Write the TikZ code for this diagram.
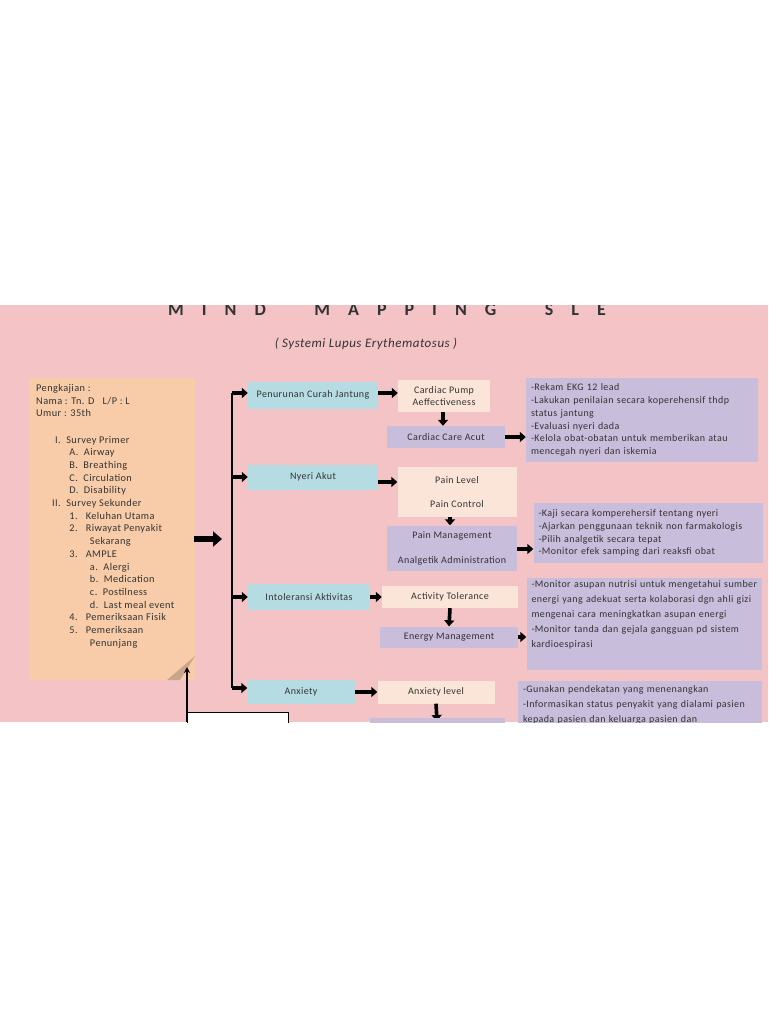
\documentclass[tikz,border=0pt]{standalone}
\usepackage{fontspec}
\setmainfont{Carlito}[LetterSpace=4]
\usetikzlibrary{arrows.meta}
\definecolor{bgpink}{HTML}{F3C3C6}
\definecolor{orangebox}{HTML}{F8CCA8}
\definecolor{bluebox}{HTML}{B5DCE3}
\definecolor{creambox}{HTML}{FBE5D8}
\definecolor{lavbox}{HTML}{C8BDDB}
\definecolor{tan}{HTML}{C9A58A}
\hyphenpenalty=10000
\tikzset{
 every node/.style={font=\fontsize{10}{12}\selectfont, text=black!80},
 blk/.style={draw=none,inner sep=0pt},
 blue/.style={blk,fill=bluebox},
 cream/.style={blk,fill=creambox},
 lav/.style={blk,fill=lavbox},
 arr/.style={line width=3.6pt,-{Triangle[length=6pt,width=10pt]}},
 bigarr/.style={line width=6pt,-{Triangle[length=9pt,width=15pt]}},
 list/.style={anchor=north west,align=left,inner sep=0pt,font=\fontsize{10.3}{12.7}\selectfont},
 ptext/.style={lav,align=left,inner xsep=5pt,inner ysep=4pt,font=\fontsize{10}{12.8}\selectfont},
 ttext/.style={anchor=north west,align=left,inner sep=0pt,font=\fontsize{10}{15}\selectfont}
}
\begin{document}
\begin{tikzpicture}[x=1pt,y=-1pt]
\useasboundingbox (0,0) rectangle (768,1024);
\fill[white] (0,0) rectangle (768,1024);
\begin{scope}
\clip (0,305) rectangle (768,722);
\fill[bgpink] (0,305) rectangle (768,722);
\node (title) at (387,310) {\fontsize{18}{18}\selectfont\bfseries M\hspace{1.0em}I\hspace{1.0em}N\hspace{1.0em}D\hspace{2.7em}M\hspace{1.0em}A\hspace{1.0em}P\hspace{1.0em}P\hspace{1.0em}I\hspace{1.0em}N\hspace{1.0em}G\hspace{2.7em}S\hspace{1.0em}L\hspace{1.0em}E};
\node (sub) at (366,344) {\fontsize{13}{14}\selectfont\itshape ( Systemi Lupus Erythematosus )};
% orange box
\fill[orangebox] (29,378) rectangle (195,680);
\fill[tan] (167,680) -- (195,656) -- (180,680) -- cycle;
\node[list] (peng) at (36,384) {Pengkajian :\\Nama : Tn. D \ \ L/P : L\\Umur : 35th};
\node[list] (surv) at (52,434) {\begin{tabular}{@{}r@{\ \ }l@{}}
I. & Survey Primer\\
 & \hspace{0.3em}A.\ \ Airway\\
 & \hspace{0.3em}B.\ \ Breathing\\
 & \hspace{0.3em}C.\ \ Circulation\\
 & \hspace{0.3em}D.\ \ Disability\\
II. & Survey Sekunder\\
 & \hspace{0.3em}1.\ \ \ Keluhan Utama\\
 & \hspace{0.3em}2.\ \ \ Riwayat Penyakit\\
 & \hspace{2.3em}Sekarang\\
 & \hspace{0.3em}3.\ \ \ AMPLE\\
 & \hspace{2.3em}a.\ \ Alergi\\
 & \hspace{2.3em}b.\ \ Medication\\
 & \hspace{2.3em}c.\ \ Postilness\\
 & \hspace{2.3em}d.\ \ Last meal event\\
 & \hspace{0.3em}4.\ \ \ Pemeriksaan Fisik\\
 & \hspace{0.3em}5.\ \ \ Pemeriksaan\\
 & \hspace{2.3em}Penunjang
\end{tabular}};
\coordinate (ba1) at (194,539);
\coordinate (ba2) at (222,539);
\draw[bigarr] (ba1) -- (ba2);
% trunk
\coordinate (t1) at (232,393);
\coordinate (t4) at (232,688);
\draw[line width=1.2pt] (t1) -- (t4);
% row boxes
\node[blue,minimum width=130,minimum height=27] (b1) at (313,395) {Penurunan Curah Jantung};
\node[blue,minimum width=130,minimum height=25] (b2) at (313,477) {Nyeri Akut};
\node[blue,minimum width=122,minimum height=26] (b3) at (309,597) {Intoleransi Aktivitas};
\node[blue,minimum width=107,minimum height=24] (b4) at (301,692) {Anxiety};
\coordinate (a1) at (232,393); \coordinate (a2) at (232,477);
\coordinate (a3) at (232,597); \coordinate (a4) at (232,688);
\draw[arr] (a1) -- (b1.west|-a1);
\draw[arr] (a2) -- (b2.west|-a2);
\draw[arr] (a3) -- (b3.west|-a3);
\draw[arr] (a4) -- (b4.west|-a4);
% row1
\node[cream,minimum width=92,minimum height=32,align=center] (c1) at (444,396) {Cardiac Pump\\Aeffectiveness};
\node[lav,minimum width=118,minimum height=22] (l1) at (446,437) {Cardiac Care Acut};
\node[ptext,minimum width=230,minimum height=84,text width=222] (p1) at (642,420) {-Rekam EKG 12 lead\\-Lakukan penilaian secara koperehensif thdp status jantung\\-Evaluasi nyeri dada\\-Kelola obat-obatan untuk memberikan atau mencegah nyeri dan iskemia};
\draw[arr] (b1.east|-0,393) -- (c1.west|-0,393);
\draw[arr] (c1.south-|443,0) -- (l1.north-|443,0);
\draw[arr] (l1.east) -- (p1.west|-l1);
% row2
\node[cream,minimum width=119,minimum height=50,align=center,font=\fontsize{10}{24}\selectfont] (c2) at (457,492) {Pain Level\\Pain Control};
\node[lav,minimum width=130,minimum height=45,align=center,font=\fontsize{10}{25}\selectfont] (l2) at (452,548) {Pain Management\\Analgetik Administration};
\node[ptext,minimum width=227,minimum height=60,text width=219] (p2) at (648,533) {-Kaji secara komperehersif tentang nyeri\\-Ajarkan penggunaan teknik non farmakologis\\-Pilih analgetik secara tepat\\-Monitor efek samping dari reaksfi obat};
\draw[arr] (b2.east|-0,482) -- (c2.west|-0,482);
\draw[arr] (c2.south-|450,0) -- (l2.north-|450,0);
\draw[arr] (l2.east|-0,549) -- (p2.west|-0,549);
% row3
\node[cream,minimum width=136,minimum height=22] (c3) at (450,597) {Activity Tolerance};
\node[lav,minimum width=138,minimum height=21] (l3) at (449,637) {Energy Management};
\node[lav,minimum width=235,minimum height=92] (p3) at (644,624) {};
\node[ttext,text width=226] (p3t) at ([xshift=5pt,yshift=-3pt]p3.north west) {-Monitor asupan nutrisi untuk mengetahui sumber energi yang adekuat serta kolaborasi dgn ahli gizi mengenai cara meningkatkan asupan energi\\-Monitor tanda dan gejala gangguan pd sistem kardioespirasi};
\draw[arr] (b3.east) -- (c3.west);
\draw[arr] (c3.south) -- (l3.north);
\draw[arr] (l3.east) -- (p3.west|-l3);
% row4
\node[cream,minimum width=117,minimum height=23] (c4) at (436,692) {Anxiety level};
\coordinate (d4) at (437,721);
\draw[arr] (b4.east) -- (c4.west);
\draw[arr] (c4.south) -- (d4);
\fill[lavbox] (370,718) rectangle (505,740);
\node[lav,minimum width=244,minimum height=80,anchor=north] (p4) at (640,681) {};
\node[ttext,text width=234] (p4t) at ([xshift=5pt,yshift=-4pt]p4.north west) {-Gunakan pendekatan yang menenangkan\\-Informasikan status penyakit yang dialami pasien kepada pasien dan keluarga pasien dan};
% bottom white box and up arrow
\node[draw=black,fill=white,line width=1pt,minimum width=101,minimum height=30,anchor=north west,inner sep=0pt] (wb) at (187,712) {};
\coordinate (up1) at (187,722);
\coordinate (up2) at (187,667);
\draw[line width=1.2pt,-{Stealth[length=6pt,width=6pt]}] (up1) -- (up2);
\end{scope}
\end{tikzpicture}
\end{document}
